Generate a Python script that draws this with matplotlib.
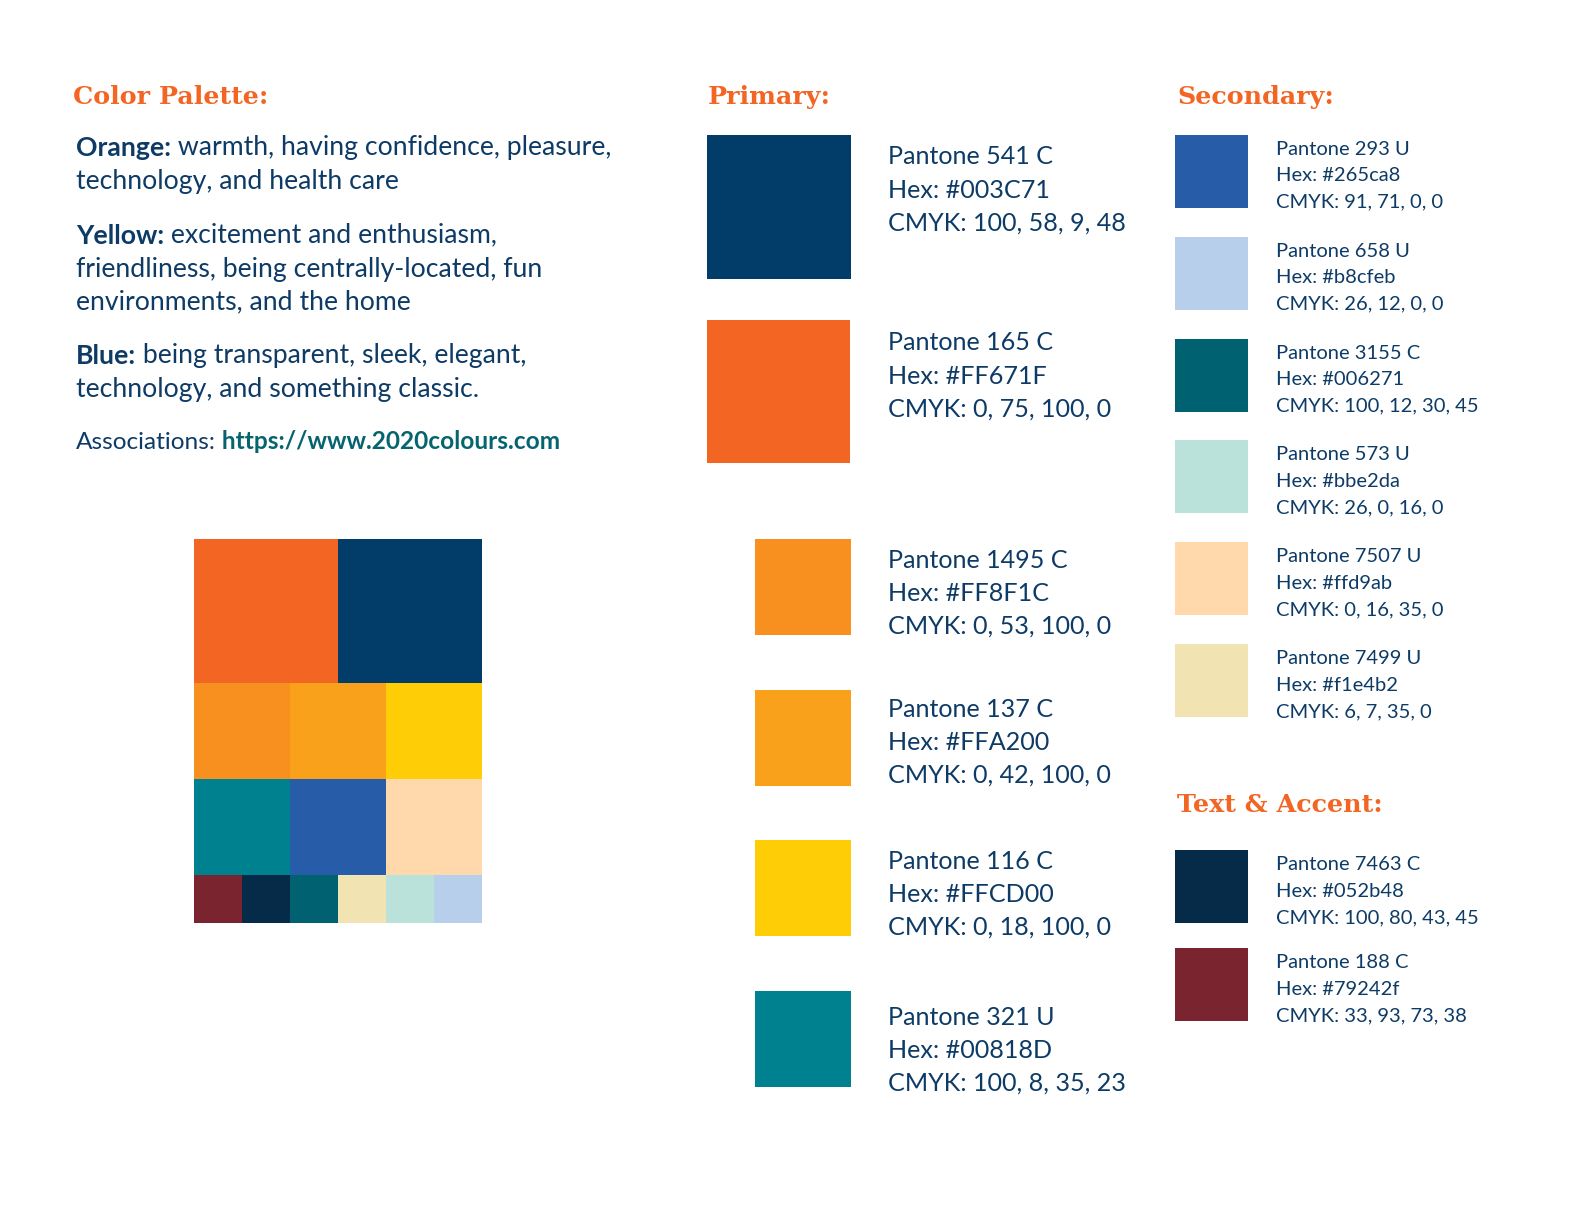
import matplotlib

matplotlib.use("Agg")
import matplotlib.pyplot as plt
from matplotlib.patches import Rectangle

W, H = 1585, 1224
ORANGE = "#f36523"
NAVY = "#0d3b66"
LINK = "#06646f"
SANS = ["Lato", "DejaVu Sans"]
SERIF = ["DejaVu Serif"]

# --- data -----------------------------------------------------------------
primary_names = ["Pantone 541 C", "Pantone 165 C", "Pantone 1495 C",
                 "Pantone 137 C", "Pantone 116 C", "Pantone 321 U"]
primary_hex = ["#003C71", "#FF671F", "#FF8F1C", "#FFA200", "#FFCD00", "#00818D"]
primary_cmyk = ["100, 58, 9, 48", "0, 75, 100, 0", "0, 53, 100, 0",
                "0, 42, 100, 0", "0, 18, 100, 0", "100, 8, 35, 23"]
# printed tone of each swatch
primary_fill = ["#023d6a", "#f36523", "#f7901e", "#f9a11b", "#ffcd05", "#00818f"]

secondary_names = ["Pantone 293 U", "Pantone 658 U", "Pantone 3155 C",
                   "Pantone 573 U", "Pantone 7507 U", "Pantone 7499 U"]
secondary_hex = ["#265ca8", "#b8cfeb", "#006271", "#bbe2da", "#ffd9ab", "#f1e4b2"]
secondary_cmyk = ["91, 71, 0, 0", "26, 12, 0, 0", "100, 12, 30, 45",
                  "26, 0, 16, 0", "0, 16, 35, 0", "6, 7, 35, 0"]

accent_names = ["Pantone 7463 C", "Pantone 188 C"]
accent_hex = ["#052b48", "#79242f"]
accent_cmyk = ["100, 80, 43, 45", "33, 93, 73, 38"]

meaning_labels = ["Orange:", "Yellow:", "Blue:"]
meaning_lines = [
    ["warmth, having confidence, pleasure,", "technology, and health care"],
    ["excitement and enthusiasm,", "friendliness, being centrally-located, fun",
     "environments, and the home"],
    ["being transparent, sleek, elegant,", "technology, and something classic."],
]
assoc_label = "Associations:"
assoc_link = "https://www.2020colours.com"

# mosaic: rows of swatches (by hex) and the relative height of each row
mosaic_rows = [
    ["#FF671F", "#003C71"],
    ["#FF8F1C", "#FFA200", "#FFCD00"],
    ["#00818D", "#265ca8", "#ffd9ab"],
    ["#79242f", "#052b48", "#006271", "#f1e4b2", "#bbe2da", "#b8cfeb"],
]
mosaic_units = [3, 2, 2, 1]

fill_of = dict(zip(primary_hex, primary_fill))
fill_of.update({h: h for h in secondary_hex + accent_hex})

# --- layout (pixels, y down) ----------------------------------------------
primary_boxes = [(707, 135, 144), (707, 320, 143), (755, 539, 96),
                 (755, 690, 96), (755, 840, 96), (755, 991, 96)]
primary_text_x = 888
primary_base = [164.5, 350.5, 568, 717, 869, 1025]
primary_step = 33

sec_x, sec_size = 1175, 73
sec_tops = [134.5, 236.5, 338.5, 440, 542, 644]
acc_tops = [850, 948]
sec_text_x = 1276
sec_step = 26.2

fig = plt.figure(figsize=(W / 100, H / 100), dpi=100)
ax = fig.add_axes([0, 0, 1, 1])
ax.set_xlim(0, W)
ax.set_ylim(H, 0)
ax.axis("off")


def heading(x, y, s):
    ax.text(x, y, s, color=ORANGE, fontsize=18.3, fontweight="bold",
            family=SERIF, va="baseline", ha="left")


heading(73, 104, "Color Palette:")
heading(708, 104, "Primary:")
heading(1177, 104, "Secondary:")
heading(1177, 812, "Text & Accent:")

# left column text
body_size = 19.2
base = [156.5, 243.5, 364]
for y0, lab, lines in zip(base, meaning_labels, meaning_lines):
    t = ax.text(76, y0, lab, color=NAVY, fontsize=body_size, fontweight="bold",
                family=SANS, va="baseline")
    ax.annotate(" " + lines[0], xy=(1, 0), xycoords=t, va="bottom", ha="left",
                color=NAVY, fontsize=body_size, family=SANS)
    for i, ln in enumerate(lines[1:], start=1):
        ax.text(76, y0 + 33 * i, ln, color=NAVY, fontsize=body_size,
                family=SANS, va="baseline")

assoc_size = 17.6
t = ax.text(76, 449, assoc_label, color=NAVY, fontsize=assoc_size,
            family=SANS, va="baseline")
ax.annotate(" " + assoc_link, xy=(1, 0), xycoords=t, va="bottom", ha="left",
            color=LINK, fontsize=assoc_size, fontweight="bold", family=SANS)

# mosaic
mx, my, mw = 194, 539, 288
unit = mw / 6
y = my
for row, u in zip(mosaic_rows, mosaic_units):
    cw = mw / len(row)
    for j, hx in enumerate(row):
        ax.add_patch(Rectangle((mx + j * cw, y), cw, u * unit,
                               facecolor=fill_of[hx], edgecolor="none"))
    y += u * unit

# primary swatches
for (x, y, s), name, hx, cm, fc, b in zip(primary_boxes, primary_names, primary_hex,
                                          primary_cmyk, primary_fill, primary_base):
    ax.add_patch(Rectangle((x, y), s, s, facecolor=fc, edgecolor="none"))
    for k, ln in enumerate([name, "Hex: " + hx, "CMYK: " + cm]):
        ax.text(primary_text_x, b + k * primary_step, ln, color=NAVY,
                fontsize=18.1, family=SANS, va="baseline")


# secondary + accent swatches
def small_group(tops, names, hexes, cmyks):
    for top, name, hx, cm in zip(tops, names, hexes, cmyks):
        ax.add_patch(Rectangle((sec_x, top), sec_size, sec_size,
                               facecolor=fill_of[hx], edgecolor="none"))
        for k, ln in enumerate([name, "Hex: " + hx, "CMYK: " + cm]):
            ax.text(sec_text_x, top + 20.5 + k * sec_step, ln, color=NAVY,
                    fontsize=14.5, family=SANS, va="baseline")


small_group(sec_tops, secondary_names, secondary_hex, secondary_cmyk)
small_group(acc_tops, accent_names, accent_hex, accent_cmyk)

fig.savefig("out.png", dpi=100)
plt.close(fig)
